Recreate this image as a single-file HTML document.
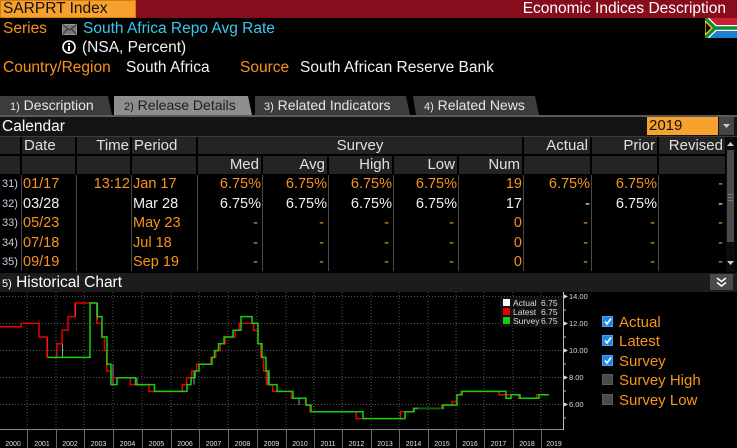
<!DOCTYPE html>
<html><head><meta charset="utf-8">
<style>
*{box-sizing:border-box}
body{margin:0;width:737px;height:448px;background:#000;position:relative;overflow:hidden;font-family:"Liberation Sans",sans-serif;}
.a{position:absolute;white-space:nowrap}
.o{color:#f7941d}
.w{color:#f2f2f2}
.t{font-size:15.5px;line-height:19px}
.hd{position:absolute;background:#242424}
.ht{position:absolute;font-size:15px;line-height:18px;color:#e0e0e0;white-space:nowrap}
.r{text-align:right}
.row{position:absolute;left:0;width:726px;height:19px;font-size:14.5px;line-height:19px}
.row span{position:absolute;white-space:nowrap}
.rn{font-size:11px;color:#c8cce0;left:2px}
.vs{position:absolute;top:175px;height:96px;width:1px;background:#4a4a4a}
</style></head><body>

<!-- top bar -->
<div class="a" style="left:0;top:0;width:737px;height:18px;background:#870c1c"></div>
<div class="a" style="left:0;top:0;width:136px;height:18px;background:#f6a02e;border:1px solid #d67d10"></div>
<div class="a t" style="left:3px;top:-1px;color:#111">SARPRT Index</div>
<div class="a t" style="right:11px;top:-1px;color:#fff">Economic Indices Description</div>

<!-- series info -->
<div class="a t o" style="left:3px;top:19px">Series</div>
<svg class="a" style="left:62px;top:24px" width="15" height="11" viewBox="0 0 15 11"><rect x="0.5" y="0.5" width="14" height="10" fill="#777" stroke="#999"/><path d="M0.5,0.5 L7.5,6 L14.5,0.5 M0.5,10.5 L5.5,5 M14.5,10.5 L9.5,5" stroke="#333" fill="none"/></svg>
<div class="a t" style="left:83px;top:19px;color:#3cc8ee">South Africa Repo Avg Rate</div>
<svg class="a" style="left:62px;top:40px" width="14" height="14" viewBox="0 0 14 14"><circle cx="7" cy="7" r="6" fill="#000" stroke="#fff" stroke-width="1.6"/><rect x="6" y="6" width="2" height="5" fill="#fff"/><rect x="6" y="3" width="2" height="2" fill="#fff"/></svg>
<div class="a t w" style="left:82px;top:38px">(NSA, Percent)</div>
<div class="a t o" style="left:3px;top:58px">Country/Region</div>
<div class="a t w" style="left:126px;top:58px">South Africa</div>
<div class="a t o" style="left:240px;top:58px">Source</div>
<div class="a t w" style="left:300px;top:58px">South African Reserve Bank</div>

<!-- flag -->
<svg class="a" style="left:705px;top:18px" width="32" height="20" viewBox="0 0 32 20">
<rect width="32" height="10" fill="#c8202e"/><rect y="10" width="32" height="10" fill="#1e7fcf"/>
<path d="M0,0 L10,10 L0,20 M10,10 H32" stroke="#fff" stroke-width="6" fill="none"/>
<path d="M0,0 L10,10 L0,20 M10,10 H32" stroke="#0a8a3a" stroke-width="3.5" fill="none"/>
<path d="M0,3 L7,10 L0,17 Z" fill="#000" stroke="#f5c000" stroke-width="1.5"/>
</svg>

<!-- tabs -->
<svg class="a" style="left:0;top:96px" width="737" height="21" viewBox="0 0 737 21">
<polygon points="0,0 108,0 112,19 0,19" fill="#3c3c3c"/>
<polygon points="114,0 248,0 252,19 114,19" fill="#8e8e8e"/>
<polygon points="255,0 406,0 410,19 255,19" fill="#3c3c3c"/>
<polygon points="413,0 535,0 539,19 416,19" fill="#3c3c3c"/>
<rect x="0" y="19" width="737" height="2" fill="#5a5a5a"/>
</svg>
<div class="a" style="left:10px;top:96px;font-size:14px;line-height:19px;color:#e6e6e6"><span style="font-size:11px">1)</span> Description</div>
<div class="a" style="left:124px;top:96px;font-size:14px;line-height:19px;color:#1e1e1e"><span style="font-size:11px">2)</span> Release Details</div>
<div class="a" style="left:264px;top:96px;font-size:14px;line-height:19px;color:#e6e6e6"><span style="font-size:11px">3)</span> Related Indicators</div>
<div class="a" style="left:424px;top:96px;font-size:14px;line-height:19px;color:#e6e6e6"><span style="font-size:11px">4)</span> Related News</div>

<!-- calendar bar -->
<div class="a" style="left:0;top:117px;width:737px;height:19px;background:#141414"></div>
<div class="a t" style="left:2px;top:117px;color:#fff">Calendar</div>
<div class="a" style="left:647px;top:117px;width:71px;height:18px;background:#f7a12e"></div>
<div class="a" style="left:649px;top:117px;font-size:15px;line-height:18px;color:#111">2019</div>
<div class="a" style="left:719px;top:117px;width:15px;height:18px;background:#454545"></div>
<svg class="a" style="left:722px;top:123px" width="9" height="6"><polygon points="1,1 8,1 4.5,5" fill="#ccc"/></svg>
<div class="a" style="left:0;top:136px;width:737px;height:1px;background:#3a3a3a"></div>

<!-- header cells -->
<div class="hd" style="left:0;top:137px;width:20px;height:17px"></div>
<div class="hd" style="left:22px;top:137px;width:53px;height:17px"></div>
<div class="hd" style="left:77px;top:137px;width:53px;height:17px"></div>
<div class="hd" style="left:132px;top:137px;width:64px;height:17px"></div>
<div class="hd" style="left:198px;top:137px;width:324px;height:17px"></div>
<div class="hd" style="left:524px;top:137px;width:66px;height:17px"></div>
<div class="hd" style="left:592px;top:137px;width:65px;height:17px"></div>
<div class="hd" style="left:659px;top:137px;width:66px;height:17px"></div>

<div class="hd" style="left:0;top:156px;width:20px;height:18px"></div>
<div class="hd" style="left:22px;top:156px;width:53px;height:18px"></div>
<div class="hd" style="left:77px;top:156px;width:53px;height:18px"></div>
<div class="hd" style="left:132px;top:156px;width:64px;height:18px"></div>
<div class="hd" style="left:198px;top:156px;width:63px;height:18px"></div>
<div class="hd" style="left:263px;top:156px;width:64px;height:18px"></div>
<div class="hd" style="left:329px;top:156px;width:63px;height:18px"></div>
<div class="hd" style="left:394px;top:156px;width:63px;height:18px"></div>
<div class="hd" style="left:459px;top:156px;width:63px;height:18px"></div>
<div class="hd" style="left:524px;top:156px;width:66px;height:18px"></div>
<div class="hd" style="left:592px;top:156px;width:65px;height:18px"></div>
<div class="hd" style="left:659px;top:156px;width:66px;height:18px"></div>

<div class="ht" style="left:24px;top:137px">Date</div>
<div class="ht r" style="left:77px;width:52px;top:137px">Time</div>
<div class="ht" style="left:134px;top:137px">Period</div>
<div class="ht" style="left:198px;width:324px;top:137px;text-align:center">Survey</div>
<div class="ht r" style="left:524px;width:64px;top:137px">Actual</div>
<div class="ht r" style="left:592px;width:63px;top:137px">Prior</div>
<div class="ht r" style="left:659px;width:64px;top:137px">Revised</div>
<div class="ht r" style="left:198px;width:61px;top:156px">Med</div>
<div class="ht r" style="left:263px;width:62px;top:156px">Avg</div>
<div class="ht r" style="left:329px;width:61px;top:156px">High</div>
<div class="ht r" style="left:394px;width:61px;top:156px">Low</div>
<div class="ht r" style="left:459px;width:61px;top:156px">Num</div>

<!-- data separators -->
<div class="vs" style="left:21px"></div><div class="vs" style="left:76px"></div>
<div class="vs" style="left:131px"></div><div class="vs" style="left:197px"></div>
<div class="vs" style="left:262px"></div><div class="vs" style="left:328px"></div>
<div class="vs" style="left:393px"></div><div class="vs" style="left:458px"></div>
<div class="vs" style="left:523px"></div><div class="vs" style="left:591px"></div>
<div class="vs" style="left:658px"></div>

<!-- rows -->
<div class="row o" style="top:175px">
<span class="rn">31)</span><span style="left:23px">01/17</span>
<span class="r" style="left:77px;width:53px">13:12</span><span style="left:133px">Jan 17</span>
<span class="r" style="left:198px;width:63px">6.75%</span><span class="r" style="left:263px;width:64px">6.75%</span>
<span class="r" style="left:329px;width:63px">6.75%</span><span class="r" style="left:394px;width:63px">6.75%</span>
<span class="r" style="left:459px;width:63px">19</span><span class="r" style="left:524px;width:66px">6.75%</span>
<span class="r" style="left:592px;width:65px">6.75%</span><span class="r" style="left:659px;width:64px">-</span>
</div>
<div class="row w" style="top:194.5px">
<span class="rn">32)</span><span style="left:23px">03/28</span>
<span style="left:133px">Mar 28</span>
<span class="r" style="left:198px;width:63px">6.75%</span><span class="r" style="left:263px;width:64px">6.75%</span>
<span class="r" style="left:329px;width:63px">6.75%</span><span class="r" style="left:394px;width:63px">6.75%</span>
<span class="r" style="left:459px;width:63px">17</span><span class="r" style="left:524px;width:66px">-</span>
<span class="r" style="left:592px;width:65px">6.75%</span><span class="r" style="left:659px;width:64px">-</span>
</div>
<div class="row o" style="top:214px">
<span class="rn">33)</span><span style="left:23px">05/23</span><span style="left:133px">May 23</span>
<span class="r" style="left:198px;width:60px">-</span><span class="r" style="left:263px;width:61px">-</span>
<span class="r" style="left:329px;width:60px">-</span><span class="r" style="left:394px;width:60px">-</span>
<span class="r" style="left:459px;width:63px">0</span><span class="r" style="left:524px;width:64px">-</span>
<span class="r" style="left:592px;width:63px">-</span><span class="r" style="left:659px;width:64px">-</span>
</div>
<div class="row o" style="top:233.5px">
<span class="rn">34)</span><span style="left:23px">07/18</span><span style="left:133px">Jul 18</span>
<span class="r" style="left:198px;width:60px">-</span><span class="r" style="left:263px;width:61px">-</span>
<span class="r" style="left:329px;width:60px">-</span><span class="r" style="left:394px;width:60px">-</span>
<span class="r" style="left:459px;width:63px">0</span><span class="r" style="left:524px;width:64px">-</span>
<span class="r" style="left:592px;width:63px">-</span><span class="r" style="left:659px;width:64px">-</span>
</div>
<div class="row o" style="top:253px">
<span class="rn">35)</span><span style="left:23px">09/19</span><span style="left:133px">Sep 19</span>
<span class="r" style="left:198px;width:60px">-</span><span class="r" style="left:263px;width:61px">-</span>
<span class="r" style="left:329px;width:60px">-</span><span class="r" style="left:394px;width:60px">-</span>
<span class="r" style="left:459px;width:63px">0</span><span class="r" style="left:524px;width:64px">-</span>
<span class="r" style="left:592px;width:63px">-</span><span class="r" style="left:659px;width:64px">-</span>
</div>

<!-- scrollbar -->
<div class="a" style="left:726px;top:137px;width:9px;height:135px;background:#0c0c0c"></div>
<div class="a" style="left:727px;top:150px;width:7px;height:92px;background:#4a4a4a"></div>
<div class="a" style="left:728px;top:194px;width:5px;height:1px;background:#777"></div>
<div class="a" style="left:728px;top:197px;width:5px;height:1px;background:#777"></div>
<div class="a" style="left:728px;top:200px;width:5px;height:1px;background:#777"></div>
<svg class="a" style="left:726px;top:141px" width="9" height="6"><polygon points="1,5 8,5 4.5,1" fill="#ccc"/></svg>
<svg class="a" style="left:726px;top:260px" width="9" height="6"><polygon points="1,1 8,1 4.5,5" fill="#ccc"/></svg>

<!-- historical chart bar -->
<div class="a" style="left:0;top:273px;width:737px;height:19px;background:#1c1c1c"></div>
<div class="a" style="left:2px;top:273px;font-size:15.5px;line-height:19px;color:#fff"><span style="font-size:11px">5)</span> Historical Chart</div>
<div class="a" style="left:710px;top:274px;width:23px;height:16px;background:#4a4a4a"></div>
<svg class="a" style="left:715px;top:276px" width="13" height="12"><path d="M2,2 L6.5,5.5 L11,2 M2,6.5 L6.5,10 L11,6.5" stroke="#fff" stroke-width="1.6" fill="none"/></svg>

<!-- chart -->
<svg class="a" style="left:0;top:0" width="737" height="448" viewBox="0 0 737 448">
<g stroke="#555" stroke-width="1" stroke-dasharray="1,2">
<path d="M27,292V429M56,292V429M84,292V429M113,292V429M142,292V429M171,292V429M199,292V429M228,292V429M257,292V429M286,292V429M314,292V429M342,292V429M371,292V429M399,292V429M428,292V429M456,292V429M484,292V429M513,292V429M541,292V429"/>
<path d="M0,296.5H563M0,323.5H563M0,350.5H563M0,377.5H563M0,404.5H563"/>
</g>
<path d="M0,429.5H563" stroke="#8a8a8a" stroke-width="1"/>
<g stroke="#6a6a6a" stroke-width="1">
<path d="M27.5,430V448M56.5,430V448M84.5,430V448M113.5,430V448M142.5,430V448M171.5,430V448M199.5,430V448M228.5,430V448M257.5,430V448M286.5,430V448M314.5,430V448M342.5,430V448M371.5,430V448M399.5,430V448M428.5,430V448M456.5,430V448M484.5,430V448M513.5,430V448M541.5,430V448"/>
</g>
<g font-family="Liberation Sans, sans-serif" font-size="7" fill="#e0e0e0" text-anchor="middle">
<text x="13" y="446">2000</text><text x="42" y="446">2001</text><text x="70" y="446">2002</text><text x="98.5" y="446">2003</text>
<text x="127.5" y="446">2004</text><text x="156.5" y="446">2005</text><text x="185" y="446">2006</text><text x="213.5" y="446">2007</text>
<text x="242.5" y="446">2008</text><text x="271.5" y="446">2009</text><text x="300" y="446">2010</text><text x="328" y="446">2011</text>
<text x="356.5" y="446">2012</text><text x="385" y="446">2013</text><text x="413.5" y="446">2014</text><text x="442" y="446">2015</text>
<text x="470" y="446">2016</text><text x="498.5" y="446">2017</text><text x="527" y="446">2018</text><text x="554" y="446">2019</text>
</g>
<!-- y axis -->
<path d="M563.5,292V430" stroke="#bbb" stroke-width="1"/>
<g fill="#ddd">
<polygon points="564,294.5 568,296.5 564,298.5"/><polygon points="564,321.5 568,323.5 564,325.5"/>
<polygon points="564,348.5 568,350.5 564,352.5"/><polygon points="564,375.5 568,377.5 564,379.5"/>
<polygon points="564,402.5 568,404.5 564,406.5"/>
</g>
<path d="M563,310H566M563,337H566M563,364H566M563,391H566M563,418H566" stroke="#bbb" stroke-width="1"/>
<g font-family="Liberation Sans, sans-serif" font-size="7.5" fill="#d8d8d8">
<text x="569" y="299">14.00</text><text x="569" y="326">12.00</text><text x="569" y="353">10.00</text>
<text x="569" y="380">8.00</text><text x="569" y="407">6.00</text>
</g>
<!-- series -->
<path fill="none" stroke="#9a9a9a" stroke-width="1" d="M47.5,337V357.4M62.5,343.8V357.4M75.5,303V316.6M97.5,303V320M113,364V384.6M137,377.8V384.6M194,384.6V371M216,357V350M268,371V384.6M299,398V405M405,411.8V418"/>
<path fill="none" stroke="#e80000" stroke-width="1.5" d="M0,326.8H21V323.4H39V337H47V357.4H56.9V343.8H62.1V330.2H68V316.6H74.9V303H96.8V323.4H101.7V337H104.5V350.6H106.8V371H111.1V377.8H130.2V384.6H149V391.4H182.3V384.6H186.6V377.8H191.7V371H196.6V364.2H210.8V357.4H215.7V350.6H220.2V343.8H225.1V337H235.1V330.2H239.3V323.4H253.6V330.2H257.9V343.8H260.7V357.4H263.6V371H266.4V384.6H272.7V391.4H291.5V398.2H305.5V405H310V411.8H356.2V418.6H400.5V411.8H413.2V408.4H441.7V405H452V401.6H456.5V394.8H461V391.4H499V394.8H518.6V398.2H536.6V394.8H548.6"/>
<path fill="none" stroke="#10d010" stroke-width="1.5" d="M48,357.4H90V303H97V316.6H102V337H107V364.2H111V384.6H117V377.8H135.5V384.6H154.5V391.4H187V384.6H191V377.8H195V371H199V364.2H212V357.4H214.5V350.6H218.5V343.8H224V337H233V330.2H241V316.6H252V323.4H258V343.8H262V357.4H266V371H269V384.6H277V391.4H293V398.2H306V405H311V411.8H363V418.6H405V411.8H414V408.4H443V405H457V394.8H462V391.4H506V398.2H511V394.8H520V398.2H539V394.8H549"/>
<path fill="none" stroke="#0b5a0b" stroke-width="1.6" d="M418,408.4H442"/>
<!-- legend -->
<rect x="500" y="297" width="62" height="30" fill="#111"/>
<rect x="503" y="299" width="7" height="7" fill="#fff"/>
<rect x="503" y="308" width="7" height="7" fill="#e80000"/>
<rect x="503" y="317" width="7" height="7" fill="#10d010"/>
<g font-family="Liberation Sans, sans-serif" font-size="8.5" fill="#dcdcdc">
<text x="513" y="306">Actual</text><text x="541" y="306">6.75</text>
<text x="513" y="315">Latest</text><text x="541" y="315">6.75</text>
<text x="513" y="324">Survey</text><text x="541" y="324">6.75</text>
</g>
<!-- checkboxes -->
<g>
<rect x="602.5" y="316.5" width="10" height="10" fill="#1e88e5" stroke="#4aa0f0" stroke-width="1"/>
<path d="M605,321.5 L607,324 L611,318.5" stroke="#fff" stroke-width="1.6" fill="none"/>
<rect x="602.5" y="335.5" width="10" height="10" fill="#1e88e5" stroke="#4aa0f0" stroke-width="1"/>
<path d="M605,340.5 L607,343 L611,337.5" stroke="#fff" stroke-width="1.6" fill="none"/>
<rect x="602.5" y="355.5" width="10" height="10" fill="#1e88e5" stroke="#4aa0f0" stroke-width="1"/>
<path d="M605,360.5 L607,363 L611,357.5" stroke="#fff" stroke-width="1.6" fill="none"/>
<rect x="602.5" y="374.5" width="10" height="10" fill="#4a4a4a" stroke="#5a5a5a" stroke-width="1"/>
<rect x="602.5" y="394.5" width="10" height="10" fill="#4a4a4a" stroke="#5a5a5a" stroke-width="1"/>
</g>
<g font-family="Liberation Sans, sans-serif" font-size="15" fill="#f7941d">
<text x="619" y="327">Actual</text>
<text x="619" y="346">Latest</text>
<text x="619" y="366">Survey</text>
<text x="619" y="385">Survey High</text>
<text x="619" y="405">Survey Low</text>
</g>
</svg>
</body></html>
